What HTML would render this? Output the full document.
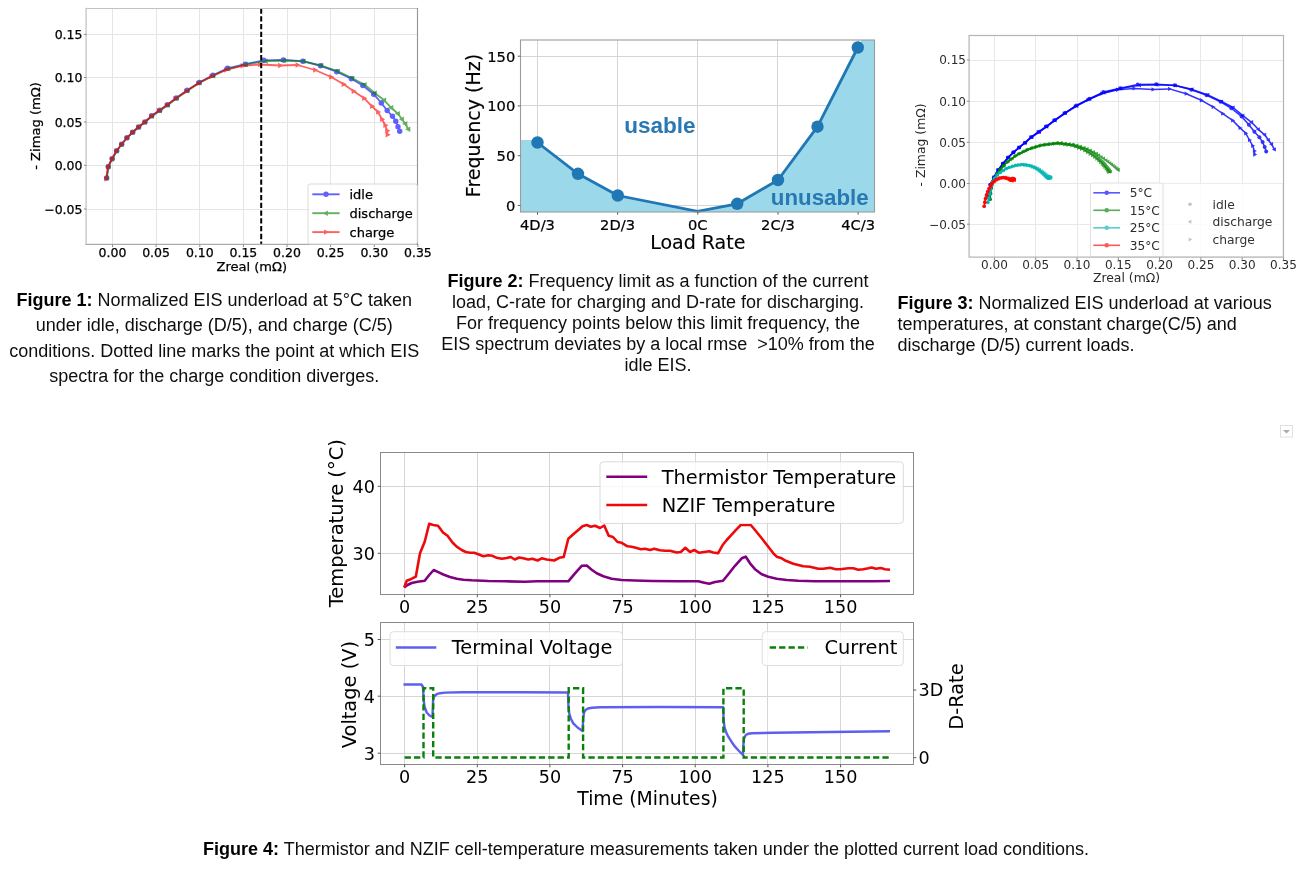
<!DOCTYPE html>
<html lang="en"><head><meta charset="utf-8"><title>Figures</title>
<style>
html,body{margin:0;padding:0;background:#fff;}
body{width:1314px;height:881px;position:relative;overflow:hidden;font-family:"Liberation Sans", "DejaVu Sans", sans-serif;color:#1a1a1a;}
svg{position:absolute;left:0;top:0;}
svg text{font-family:"DejaVu Sans", "Liberation Sans", sans-serif;}
.cap{position:absolute;font-size:18px;white-space:nowrap;color:#0e0e0e;}
.cap b{font-weight:bold;color:#000;}
.c{text-align:center;}
</style></head><body>
<svg width="1314" height="881" viewBox="0 0 1314 881">
<g id="chart1">
<rect x="86.5" y="8.5" width="331.0" height="236.0" fill="#fff"/>
<g stroke="#e5e5e5" stroke-width="1">
<line x1="112.5" y1="8.5" x2="112.5" y2="244.5"/>
<line x1="156.5" y1="8.5" x2="156.5" y2="244.5"/>
<line x1="199.5" y1="8.5" x2="199.5" y2="244.5"/>
<line x1="243.5" y1="8.5" x2="243.5" y2="244.5"/>
<line x1="287.5" y1="8.5" x2="287.5" y2="244.5"/>
<line x1="330.5" y1="8.5" x2="330.5" y2="244.5"/>
<line x1="374.5" y1="8.5" x2="374.5" y2="244.5"/>
<line x1="86.5" y1="34.5" x2="417.5" y2="34.5"/>
<line x1="86.5" y1="77.5" x2="417.5" y2="77.5"/>
<line x1="86.5" y1="122.5" x2="417.5" y2="122.5"/>
<line x1="86.5" y1="165.5" x2="417.5" y2="165.5"/>
<line x1="86.5" y1="209.5" x2="417.5" y2="209.5"/>
</g>
<g fill="none" stroke-width="1.8" stroke-linejoin="round">
<g opacity="0.62"><polyline stroke="#0000ff" points="106.7,178.0 108.3,166.7 112.2,158.7 116.7,150.8 121.7,144.2 127.0,137.8 132.7,132.2 138.7,127.0 145.0,122.0 151.7,115.8 159.7,110.3 167.5,104.7 176.3,98.0 187.2,90.3 199.2,82.5 212.8,75.3 227.5,68.3 245.3,64.2 263.8,60.3 283.3,60.0 302.8,61.2 320.5,65.8 336.7,71.7 351.3,78.7 362.8,85.5 373.7,94.2 381.3,103.0 387.2,110.5 392.5,116.3 395.8,121.3 398.0,126.7 399.7,131.3"/><g fill="#0000ff" stroke="none"><circle cx="106.7" cy="178.0" r="2.7"/><circle cx="108.3" cy="166.7" r="2.7"/><circle cx="112.2" cy="158.7" r="2.7"/><circle cx="116.7" cy="150.8" r="2.7"/><circle cx="121.7" cy="144.2" r="2.7"/><circle cx="127.0" cy="137.8" r="2.7"/><circle cx="132.7" cy="132.2" r="2.7"/><circle cx="138.7" cy="127.0" r="2.7"/><circle cx="145.0" cy="122.0" r="2.7"/><circle cx="151.7" cy="115.8" r="2.7"/><circle cx="159.7" cy="110.3" r="2.7"/><circle cx="167.5" cy="104.7" r="2.7"/><circle cx="176.3" cy="98.0" r="2.7"/><circle cx="187.2" cy="90.3" r="2.7"/><circle cx="199.2" cy="82.5" r="2.7"/><circle cx="212.8" cy="75.3" r="2.7"/><circle cx="227.5" cy="68.3" r="2.7"/><circle cx="245.3" cy="64.2" r="2.7"/><circle cx="263.8" cy="60.3" r="2.7"/><circle cx="283.3" cy="60.0" r="2.7"/><circle cx="302.8" cy="61.2" r="2.7"/><circle cx="320.5" cy="65.8" r="2.7"/><circle cx="336.7" cy="71.7" r="2.7"/><circle cx="351.3" cy="78.7" r="2.7"/><circle cx="362.8" cy="85.5" r="2.7"/><circle cx="373.7" cy="94.2" r="2.7"/><circle cx="381.3" cy="103.0" r="2.7"/><circle cx="387.2" cy="110.5" r="2.7"/><circle cx="392.5" cy="116.3" r="2.7"/><circle cx="395.8" cy="121.3" r="2.7"/><circle cx="398.0" cy="126.7" r="2.7"/><circle cx="399.7" cy="131.3" r="2.7"/></g></g>
<g opacity="0.62"><polyline stroke="#008000" points="106.7,178.0 108.3,166.7 112.2,158.7 116.7,150.8 121.7,144.2 127.0,137.8 132.7,132.2 138.7,127.0 145.0,122.0 152.0,116.2 160.0,110.7 167.8,105.0 176.7,98.3 187.5,90.7 199.7,82.8 213.3,75.7 228.3,68.8 246.0,64.5 265.8,61.2 284.2,60.5 303.7,61.3 321.3,65.5 338.0,71.3 352.5,78.3 364.7,84.7 375.0,93.3 384.2,100.3 391.3,107.8 398.0,113.7 402.0,119.2 405.3,123.7 408.3,129.2"/><g fill="#008000" stroke="none"><path d="M103.5 178.0L108.6 175.3L108.6 180.7Z"/><path d="M105.1 166.7L110.3 163.9L110.3 169.4Z"/><path d="M109.0 158.7L114.1 155.9L114.1 161.4Z"/><path d="M113.5 150.8L118.6 148.1L118.6 153.6Z"/><path d="M118.5 144.2L123.6 141.4L123.6 146.9Z"/><path d="M123.8 137.8L128.9 135.1L128.9 140.6Z"/><path d="M129.5 132.2L134.6 129.4L134.6 134.9Z"/><path d="M135.5 127.0L140.6 124.3L140.6 129.7Z"/><path d="M141.8 122.0L146.9 119.3L146.9 124.7Z"/><path d="M148.8 116.2L153.9 113.4L153.9 118.9Z"/><path d="M156.8 110.7L161.9 107.9L161.9 113.4Z"/><path d="M164.6 105.0L169.8 102.3L169.8 107.7Z"/><path d="M173.5 98.3L178.6 95.6L178.6 101.1Z"/><path d="M184.3 90.7L189.4 87.9L189.4 93.4Z"/><path d="M196.5 82.8L201.6 80.1L201.6 85.6Z"/><path d="M210.1 75.7L215.3 72.9L215.3 78.4Z"/><path d="M225.1 68.8L230.3 66.1L230.3 71.6Z"/><path d="M242.8 64.5L247.9 61.8L247.9 67.2Z"/><path d="M262.6 61.2L267.8 58.4L267.8 63.9Z"/><path d="M281.0 60.5L286.1 57.8L286.1 63.2Z"/><path d="M300.5 61.3L305.6 58.6L305.6 64.1Z"/><path d="M318.1 65.5L323.3 62.8L323.3 68.2Z"/><path d="M334.8 71.3L339.9 68.6L339.9 74.1Z"/><path d="M349.3 78.3L354.4 75.6L354.4 81.1Z"/><path d="M361.5 84.7L366.6 81.9L366.6 87.4Z"/><path d="M371.8 93.3L376.9 90.6L376.9 96.1Z"/><path d="M381.0 100.3L386.1 97.6L386.1 103.1Z"/><path d="M388.1 107.8L393.3 105.1L393.3 110.6Z"/><path d="M394.8 113.7L399.9 110.9L399.9 116.4Z"/><path d="M398.8 119.2L403.9 116.4L403.9 121.9Z"/><path d="M402.1 123.7L407.3 120.9L407.3 126.4Z"/><path d="M405.1 129.2L410.3 126.4L410.3 131.9Z"/></g></g>
<g opacity="0.62"><polyline stroke="#ff0000" points="106.2,178.7 108.0,167.0 111.8,159.0 116.3,151.2 121.3,144.5 126.7,138.2 132.3,132.5 138.3,127.3 144.5,122.3 151.0,116.3 158.7,110.8 166.7,105.3 175.3,98.7 186.2,91.2 198.0,83.5 211.3,76.5 225.8,70.0 242.5,65.8 260.0,64.5 280.0,65.5 297.5,65.0 315.0,70.0 331.2,77.0 343.7,84.2 353.7,91.2 364.2,98.3 372.0,106.3 378.0,112.0 382.0,119.2 385.3,125.3 387.2,130.8 387.5,134.7"/><g fill="#ff0000" stroke="none"><path d="M109.4 178.7L104.2 175.9L104.2 181.4Z"/><path d="M111.2 167.0L106.1 164.3L106.1 169.7Z"/><path d="M115.0 159.0L109.9 156.3L109.9 161.7Z"/><path d="M119.5 151.2L114.4 148.4L114.4 153.9Z"/><path d="M124.5 144.5L119.4 141.8L119.4 147.2Z"/><path d="M129.9 138.2L124.7 135.4L124.7 140.9Z"/><path d="M135.5 132.5L130.4 129.8L130.4 135.2Z"/><path d="M141.5 127.3L136.4 124.6L136.4 130.1Z"/><path d="M147.7 122.3L142.6 119.6L142.6 125.1Z"/><path d="M154.2 116.3L149.1 113.6L149.1 119.1Z"/><path d="M161.9 110.8L156.7 108.1L156.7 113.6Z"/><path d="M169.9 105.3L164.7 102.6L164.7 108.1Z"/><path d="M178.5 98.7L173.4 95.9L173.4 101.4Z"/><path d="M189.4 91.2L184.2 88.4L184.2 93.9Z"/><path d="M201.2 83.5L196.1 80.8L196.1 86.2Z"/><path d="M214.5 76.5L209.4 73.8L209.4 79.2Z"/><path d="M229.0 70.0L223.9 67.3L223.9 72.7Z"/><path d="M245.7 65.8L240.6 63.1L240.6 68.6Z"/><path d="M263.2 64.5L258.1 61.8L258.1 67.2Z"/><path d="M283.2 65.5L278.1 62.8L278.1 68.2Z"/><path d="M300.7 65.0L295.6 62.3L295.6 67.7Z"/><path d="M318.2 70.0L313.1 67.3L313.1 72.7Z"/><path d="M334.4 77.0L329.2 74.3L329.2 79.7Z"/><path d="M346.9 84.2L341.7 81.4L341.7 86.9Z"/><path d="M356.9 91.2L351.7 88.4L351.7 93.9Z"/><path d="M367.4 98.3L362.2 95.6L362.2 101.1Z"/><path d="M375.2 106.3L370.1 103.6L370.1 109.1Z"/><path d="M381.2 112.0L376.1 109.3L376.1 114.7Z"/><path d="M385.2 119.2L380.1 116.4L380.1 121.9Z"/><path d="M388.5 125.3L383.4 122.6L383.4 128.1Z"/><path d="M390.4 130.8L385.2 128.1L385.2 133.6Z"/><path d="M390.7 134.7L385.6 131.9L385.6 137.4Z"/></g></g>
</g>
<line x1="261.2" y1="8.5" x2="261.2" y2="244.5" stroke="#000" stroke-width="2.0" stroke-dasharray="5.3 2.47"/>
<g stroke-width="1.15" stroke-linecap="square">
<line x1="86.1" y1="8.45" x2="417.5" y2="8.45" stroke="#c2c2c2"/>
<line x1="86.1" y1="8.45" x2="86.1" y2="244.4" stroke="#c8c8c8" stroke-width="1.4"/>
<line x1="86.1" y1="244.4" x2="417.5" y2="244.4" stroke="#acacac"/>
<line x1="417.5" y1="8.45" x2="417.5" y2="244.4" stroke="#969696"/>
</g>
<g stroke="#8c8c8c" stroke-width="1">
<line x1="112.5" y1="244.5" x2="112.5" y2="247.1"/>
<line x1="156.1" y1="244.5" x2="156.1" y2="247.1"/>
<line x1="199.8" y1="244.5" x2="199.8" y2="247.1"/>
<line x1="243.4" y1="244.5" x2="243.4" y2="247.1"/>
<line x1="287.0" y1="244.5" x2="287.0" y2="247.1"/>
<line x1="330.6" y1="244.5" x2="330.6" y2="247.1"/>
<line x1="374.3" y1="244.5" x2="374.3" y2="247.1"/>
<line x1="417.9" y1="244.5" x2="417.9" y2="247.1"/>
<line x1="83.9" y1="34.4" x2="86.5" y2="34.4"/>
<line x1="83.9" y1="77.5" x2="86.5" y2="77.5"/>
<line x1="83.9" y1="122.0" x2="86.5" y2="122.0"/>
<line x1="83.9" y1="165.3" x2="86.5" y2="165.3"/>
<line x1="83.9" y1="209.0" x2="86.5" y2="209.0"/>
</g>
<g font-size="12.5" fill="#000" stroke="#000" stroke-width="0.25">
<text x="112.5" y="256.8" text-anchor="middle">0.00</text>
<text x="156.1" y="256.8" text-anchor="middle">0.05</text>
<text x="199.8" y="256.8" text-anchor="middle">0.10</text>
<text x="243.4" y="256.8" text-anchor="middle">0.15</text>
<text x="287.0" y="256.8" text-anchor="middle">0.20</text>
<text x="330.6" y="256.8" text-anchor="middle">0.25</text>
<text x="374.3" y="256.8" text-anchor="middle">0.30</text>
<text x="417.9" y="256.8" text-anchor="middle">0.35</text>
<text x="82.5" y="39.0" text-anchor="end">0.15</text>
<text x="82.5" y="82.1" text-anchor="end">0.10</text>
<text x="82.5" y="126.6" text-anchor="end">0.05</text>
<text x="82.5" y="169.9" text-anchor="end">0.00</text>
<text x="82.5" y="213.6" text-anchor="end">−0.05</text>
<text x="251.8" y="271.2" text-anchor="middle" font-size="13.05">Zreal (mΩ)</text>
<text transform="translate(39.8,126) rotate(-90)" text-anchor="middle" font-size="13.1">- Zimag (mΩ)</text>
</g>
<rect x="308" y="184" width="109.3" height="60" rx="2" fill="#fff" fill-opacity="0.85" stroke="#d9d9d9" stroke-width="1"/>
<g opacity="0.62"><line x1="312.3" y1="194.3" x2="339.6" y2="194.3" stroke="#0000ff" stroke-width="1.9"/>
<circle cx="326" cy="194.3" r="2.7" fill="#0000ff"/>
</g>
<text x="349.5" y="198.8" font-size="13" fill="#000" stroke="#000" stroke-width="0.25">idle</text>
<g opacity="0.62"><line x1="312.3" y1="213.2" x2="339.6" y2="213.2" stroke="#008000" stroke-width="1.9"/>
<g fill="#008000"><path d="M322.8 213.2L327.9 210.5L327.9 215.9Z"/></g>
</g>
<text x="349.5" y="217.7" font-size="13" fill="#000" stroke="#000" stroke-width="0.25">discharge</text>
<g opacity="0.62"><line x1="312.3" y1="232.1" x2="339.6" y2="232.1" stroke="#ff0000" stroke-width="1.9"/>
<g fill="#ff0000"><path d="M329.2 232.1L324.1 229.4L324.1 234.8Z"/></g>
</g>
<text x="349.5" y="236.6" font-size="13" fill="#000" stroke="#000" stroke-width="0.25">charge</text>
</g>
<g id="chart2">
<rect x="520.5" y="40.0" width="354.0" height="172.0" fill="#fff"/>
<g stroke="#d4d4d4" stroke-width="1">
<line x1="537.5" y1="40.0" x2="537.5" y2="212.0"/>
<line x1="617.5" y1="40.0" x2="617.5" y2="212.0"/>
<line x1="697.5" y1="40.0" x2="697.5" y2="212.0"/>
<line x1="777.5" y1="40.0" x2="777.5" y2="212.0"/>
<line x1="858.5" y1="40.0" x2="858.5" y2="212.0"/>
<line x1="520.5" y1="56.5" x2="874.5" y2="56.5"/>
<line x1="520.5" y1="105.5" x2="874.5" y2="105.5"/>
<line x1="520.5" y1="155.5" x2="874.5" y2="155.5"/>
<line x1="520.5" y1="205.5" x2="874.5" y2="205.5"/>
</g>
<polygon points="520.5,140.0 533.0,140.0 537.5,142.5 578.0,173.8 617.8,195.5 697.6,211.3 737.2,203.8 778.0,180.0 817.5,126.7 857.8,47.5 861.6,40.0 874.5,40.0 874.5,212.0 520.5,212.0" fill="#9bd8ea"/>
<polyline points="537.5,142.5 578.0,173.8 617.8,195.5 697.6,211.3 737.2,203.8 778.0,180.0 817.5,126.7 857.8,47.5" fill="none" stroke="#1f77b4" stroke-width="2.8" stroke-linejoin="round"/>
<g fill="#1f77b4"><circle cx="537.5" cy="142.5" r="6.2"/><circle cx="578.0" cy="173.8" r="6.2"/><circle cx="617.8" cy="195.5" r="6.2"/><circle cx="737.2" cy="203.8" r="6.2"/><circle cx="778.0" cy="180.0" r="6.2"/><circle cx="817.5" cy="126.7" r="6.2"/><circle cx="857.8" cy="47.5" r="6.2"/></g>
<rect x="520.5" y="40.0" width="354.0" height="172.0" fill="none" stroke="#9c9c9c" stroke-width="1.1"/>
<g stroke="#666" stroke-width="1">
<line x1="537.5" y1="212.0" x2="537.5" y2="214.8"/>
<line x1="617.6" y1="212.0" x2="617.6" y2="214.8"/>
<line x1="697.8" y1="212.0" x2="697.8" y2="214.8"/>
<line x1="778.0" y1="212.0" x2="778.0" y2="214.8"/>
<line x1="858.1" y1="212.0" x2="858.1" y2="214.8"/>
<line x1="517.7" y1="56.2" x2="520.5" y2="56.2"/>
<line x1="517.7" y1="105.9" x2="520.5" y2="105.9"/>
<line x1="517.7" y1="155.7" x2="520.5" y2="155.7"/>
<line x1="517.7" y1="205.5" x2="520.5" y2="205.5"/>
</g>
<g font-size="14.7" fill="#000" stroke="#000" stroke-width="0.22">
<text x="537.5" y="229.8" text-anchor="middle">4D/3</text>
<text x="617.6" y="229.8" text-anchor="middle">2D/3</text>
<text x="697.8" y="229.8" text-anchor="middle">0C</text>
<text x="778.0" y="229.8" text-anchor="middle">2C/3</text>
<text x="858.1" y="229.8" text-anchor="middle">4C/3</text>
<text x="515.3" y="61.6" text-anchor="end">150</text>
<text x="515.3" y="111.2" text-anchor="end">100</text>
<text x="515.3" y="161.0" text-anchor="end">50</text>
<text x="515.3" y="210.8" text-anchor="end">0</text>
</g>
<g font-size="19" fill="#000" stroke="#000" stroke-width="0.15">
<text x="697.8" y="248.7" text-anchor="middle">Load Rate</text>
<text transform="translate(480.3,125.5) rotate(-90)" text-anchor="middle">Frequency (Hz)</text>
</g>
<g font-size="22.3" font-weight="bold" fill="#2878b2" style="font-family:'Liberation Sans',sans-serif">
<text x="624.2" y="133.3" font-size="22.5" style="font-family:'Liberation Sans',sans-serif">usable</text>
<text x="770.8" y="205.3" style="font-family:'Liberation Sans',sans-serif">unusable</text>
</g>
</g>
<g id="chart3">
<rect x="969.5" y="35.5" width="314.0" height="222.0" fill="#fff"/>
<g stroke="#e8e8ec" stroke-width="1">
<line x1="994.5" y1="35.5" x2="994.5" y2="257.5"/>
<line x1="1035.5" y1="35.5" x2="1035.5" y2="257.5"/>
<line x1="1077.5" y1="35.5" x2="1077.5" y2="257.5"/>
<line x1="1118.5" y1="35.5" x2="1118.5" y2="257.5"/>
<line x1="1159.5" y1="35.5" x2="1159.5" y2="257.5"/>
<line x1="1200.5" y1="35.5" x2="1200.5" y2="257.5"/>
<line x1="1242.5" y1="35.5" x2="1242.5" y2="257.5"/>
<line x1="969.5" y1="60.5" x2="1283.5" y2="60.5"/>
<line x1="969.5" y1="101.5" x2="1283.5" y2="101.5"/>
<line x1="969.5" y1="142.5" x2="1283.5" y2="142.5"/>
<line x1="969.5" y1="183.5" x2="1283.5" y2="183.5"/>
<line x1="969.5" y1="224.5" x2="1283.5" y2="224.5"/>
</g>
<g opacity="0.80"><polyline fill="none" stroke="#0000ff" stroke-width="1.6" stroke-linejoin="round" points="988.9,195.5 990.5,184.8 994.1,177.2 998.3,169.9 1003.1,163.6 1008.1,157.6 1013.5,152.3 1019.2,147.4 1025.2,142.7 1031.5,136.9 1039.0,131.7 1046.5,126.3 1054.8,120.1 1065.1,112.8 1076.4,105.4 1089.4,98.7 1103.3,92.1 1120.1,88.2 1137.7,84.5 1156.1,84.2 1174.6,85.3 1191.3,89.7 1206.6,95.2 1220.5,101.8 1231.4,108.3 1241.6,116.4 1248.9,124.8 1254.4,131.8 1259.4,137.3 1262.6,142.1 1264.7,147.1 1266.2,151.5"/><g fill="#0000ff"><circle cx="988.9" cy="195.5" r="2.0"/><circle cx="990.5" cy="184.8" r="2.0"/><circle cx="994.1" cy="177.2" r="2.0"/><circle cx="998.3" cy="169.9" r="2.0"/><circle cx="1003.1" cy="163.6" r="2.0"/><circle cx="1008.1" cy="157.6" r="2.0"/><circle cx="1013.5" cy="152.3" r="2.0"/><circle cx="1019.2" cy="147.4" r="2.0"/><circle cx="1025.2" cy="142.7" r="2.0"/><circle cx="1031.5" cy="136.9" r="2.0"/><circle cx="1039.0" cy="131.7" r="2.0"/><circle cx="1046.5" cy="126.3" r="2.0"/><circle cx="1054.8" cy="120.1" r="2.0"/><circle cx="1065.1" cy="112.8" r="2.0"/><circle cx="1076.4" cy="105.4" r="2.0"/><circle cx="1089.4" cy="98.7" r="2.0"/><circle cx="1103.3" cy="92.1" r="2.0"/><circle cx="1120.1" cy="88.2" r="2.0"/><circle cx="1137.7" cy="84.5" r="2.0"/><circle cx="1156.1" cy="84.2" r="2.0"/><circle cx="1174.6" cy="85.3" r="2.0"/><circle cx="1191.3" cy="89.7" r="2.0"/><circle cx="1206.6" cy="95.2" r="2.0"/><circle cx="1220.5" cy="101.8" r="2.0"/><circle cx="1231.4" cy="108.3" r="2.0"/><circle cx="1241.6" cy="116.4" r="2.0"/><circle cx="1248.9" cy="124.8" r="2.0"/><circle cx="1254.4" cy="131.8" r="2.0"/><circle cx="1259.4" cy="137.3" r="2.0"/><circle cx="1262.6" cy="142.1" r="2.0"/><circle cx="1264.7" cy="147.1" r="2.0"/><circle cx="1266.2" cy="151.5" r="2.0"/></g></g>
<g opacity="0.80"><polyline fill="none" stroke="#0000ff" stroke-width="1.6" stroke-linejoin="round" points="988.9,195.5 990.5,184.8 994.1,177.2 998.3,169.9 1003.1,163.6 1008.1,157.6 1013.5,152.3 1019.2,147.4 1025.2,142.7 1031.8,137.2 1039.4,132.0 1046.8,126.7 1055.1,120.4 1065.4,113.1 1076.9,105.8 1089.8,99.0 1104.0,92.6 1120.8,88.5 1139.5,85.3 1156.9,84.7 1175.4,85.5 1192.1,89.4 1207.9,94.9 1221.6,101.5 1233.1,107.5 1242.9,115.7 1251.6,122.3 1258.3,129.3 1264.7,134.8 1268.4,140.0 1271.6,144.3 1274.4,149.4"/><g fill="#0000ff"><path d="M986.4 195.5L990.4 193.3L990.4 197.6Z"/><path d="M988.0 184.8L992.0 182.7L992.0 186.9Z"/><path d="M991.6 177.2L995.6 175.1L995.6 179.4Z"/><path d="M995.8 169.9L999.8 167.7L999.8 172.0Z"/><path d="M1000.6 163.6L1004.6 161.5L1004.6 165.7Z"/><path d="M1005.6 157.6L1009.6 155.5L1009.6 159.7Z"/><path d="M1011.0 152.3L1015.0 150.1L1015.0 154.4Z"/><path d="M1016.7 147.4L1020.7 145.3L1020.7 149.5Z"/><path d="M1022.7 142.7L1026.7 140.6L1026.7 144.8Z"/><path d="M1029.3 137.2L1033.3 135.1L1033.3 139.3Z"/><path d="M1036.9 132.0L1040.9 129.9L1040.9 134.1Z"/><path d="M1044.3 126.7L1048.3 124.5L1048.3 128.8Z"/><path d="M1052.6 120.4L1056.6 118.2L1056.6 122.5Z"/><path d="M1062.9 113.1L1066.9 111.0L1066.9 115.3Z"/><path d="M1074.4 105.8L1078.4 103.6L1078.4 107.9Z"/><path d="M1087.3 99.0L1091.3 96.9L1091.3 101.1Z"/><path d="M1101.5 92.6L1105.5 90.4L1105.5 94.7Z"/><path d="M1118.3 88.5L1122.3 86.3L1122.3 90.6Z"/><path d="M1137.0 85.3L1141.0 83.2L1141.0 87.5Z"/><path d="M1154.4 84.7L1158.4 82.6L1158.4 86.8Z"/><path d="M1172.9 85.5L1176.9 83.4L1176.9 87.6Z"/><path d="M1189.6 89.4L1193.6 87.3L1193.6 91.5Z"/><path d="M1205.4 94.9L1209.4 92.8L1209.4 97.0Z"/><path d="M1219.1 101.5L1223.1 99.4L1223.1 103.6Z"/><path d="M1230.6 107.5L1234.6 105.4L1234.6 109.6Z"/><path d="M1240.4 115.7L1244.4 113.5L1244.4 117.8Z"/><path d="M1249.1 122.3L1253.1 120.1L1253.1 124.4Z"/><path d="M1255.8 129.3L1259.8 127.2L1259.8 131.4Z"/><path d="M1262.2 134.8L1266.2 132.7L1266.2 136.9Z"/><path d="M1265.9 140.0L1269.9 137.9L1269.9 142.1Z"/><path d="M1269.1 144.3L1273.1 142.1L1273.1 146.4Z"/><path d="M1271.9 149.4L1275.9 147.3L1275.9 151.6Z"/></g></g>
<g opacity="0.80"><polyline fill="none" stroke="#0000ff" stroke-width="1.5" stroke-linejoin="round" points="988.4,196.1 990.1,185.1 993.8,177.6 998.0,170.2 1002.8,163.9 1007.8,157.9 1013.2,152.6 1018.9,147.7 1024.7,143.0 1030.8,137.3 1038.1,132.2 1045.7,127.0 1053.9,120.7 1064.1,113.6 1075.3,106.4 1088.0,99.8 1101.7,93.7 1117.5,89.7 1134.0,88.5 1153.0,89.4 1169.5,88.9 1186.1,93.7 1201.4,100.3 1213.2,107.0 1222.7,113.6 1232.6,120.4 1240.0,127.9 1245.7,133.3 1249.5,140.0 1252.7,145.8 1254.4,151.0 1254.7,154.6"/><g fill="#0000ff"><path d="M990.9 196.1L986.9 194.0L986.9 198.2Z"/><path d="M992.6 185.1L988.6 183.0L988.6 187.2Z"/><path d="M996.3 177.6L992.3 175.4L992.3 179.7Z"/><path d="M1000.5 170.2L996.5 168.1L996.5 172.3Z"/><path d="M1005.3 163.9L1001.3 161.8L1001.3 166.0Z"/><path d="M1010.3 157.9L1006.3 155.8L1006.3 160.0Z"/><path d="M1015.7 152.6L1011.7 150.5L1011.7 154.7Z"/><path d="M1021.4 147.7L1017.4 145.6L1017.4 149.8Z"/><path d="M1027.2 143.0L1023.2 140.9L1023.2 145.1Z"/><path d="M1033.3 137.3L1029.3 135.2L1029.3 139.5Z"/><path d="M1040.6 132.2L1036.6 130.0L1036.6 134.3Z"/><path d="M1048.2 127.0L1044.2 124.8L1044.2 129.1Z"/><path d="M1056.4 120.7L1052.4 118.6L1052.4 122.8Z"/><path d="M1066.6 113.6L1062.6 111.5L1062.6 115.7Z"/><path d="M1077.8 106.4L1073.8 104.3L1073.8 108.5Z"/><path d="M1090.5 99.8L1086.5 97.7L1086.5 101.9Z"/><path d="M1104.2 93.7L1100.2 91.5L1100.2 95.8Z"/><path d="M1120.0 89.7L1116.0 87.6L1116.0 91.9Z"/><path d="M1136.5 88.5L1132.5 86.3L1132.5 90.6Z"/><path d="M1155.5 89.4L1151.5 87.3L1151.5 91.5Z"/><path d="M1172.0 88.9L1168.0 86.8L1168.0 91.1Z"/><path d="M1188.6 93.7L1184.6 91.5L1184.6 95.8Z"/><path d="M1203.9 100.3L1199.9 98.1L1199.9 102.4Z"/><path d="M1215.7 107.0L1211.7 104.9L1211.7 109.1Z"/><path d="M1225.2 113.6L1221.2 111.5L1221.2 115.7Z"/><path d="M1235.1 120.4L1231.1 118.2L1231.1 122.5Z"/><path d="M1242.5 127.9L1238.5 125.8L1238.5 130.0Z"/><path d="M1248.2 133.3L1244.2 131.1L1244.2 135.4Z"/><path d="M1252.0 140.0L1248.0 137.9L1248.0 142.1Z"/><path d="M1255.2 145.8L1251.2 143.7L1251.2 147.9Z"/><path d="M1256.9 151.0L1252.9 148.9L1252.9 153.1Z"/><path d="M1257.2 154.6L1253.2 152.5L1253.2 156.7Z"/></g></g>
<g opacity="0.72"><polyline fill="none" stroke="#008000" stroke-width="1.3" stroke-linejoin="round" points="990.2,199.2 990.8,191.7 992.5,181.7 998.3,171.7 1006.7,162.5 1016.7,155.0 1028.3,149.2 1041.7,145.0 1058.3,143.0 1073.3,145.0 1085.0,149.2 1095.0,155.0 1103.3,162.5 1108.3,168.7 1110.3,171.7"/><g fill="#008000"><circle cx="990.2" cy="199.2" r="1.8"/><circle cx="990.7" cy="193.6" r="1.8"/><circle cx="991.4" cy="188.0" r="1.8"/><circle cx="992.3" cy="182.9" r="1.8"/><circle cx="994.5" cy="178.2" r="1.8"/><circle cx="997.3" cy="173.4" r="1.8"/><circle cx="1000.5" cy="169.3" r="1.8"/><circle cx="1003.7" cy="165.7" r="1.8"/><circle cx="1007.3" cy="162.0" r="1.8"/><circle cx="1011.2" cy="159.1" r="1.8"/><circle cx="1015.3" cy="156.0" r="1.8"/><circle cx="1019.5" cy="153.6" r="1.8"/><circle cx="1023.8" cy="151.4" r="1.8"/><circle cx="1027.7" cy="149.5" r="1.8"/><circle cx="1032.3" cy="147.9" r="1.8"/><circle cx="1036.5" cy="146.6" r="1.8"/><circle cx="1040.7" cy="145.3" r="1.8"/><circle cx="1045.0" cy="144.6" r="1.8"/><circle cx="1049.4" cy="144.1" r="1.8"/><circle cx="1053.7" cy="143.6" r="1.8"/><circle cx="1057.7" cy="143.1" r="1.8"/><circle cx="1061.7" cy="143.4" r="1.8"/><circle cx="1065.7" cy="144.0" r="1.8"/><circle cx="1069.2" cy="144.5" r="1.8"/><circle cx="1073.2" cy="145.0" r="1.8"/><circle cx="1076.6" cy="146.2" r="1.8"/><circle cx="1080.0" cy="147.4" r="1.8"/><circle cx="1083.0" cy="148.5" r="1.8"/><circle cx="1086.3" cy="149.9" r="1.8"/><circle cx="1089.1" cy="151.5" r="1.8"/><circle cx="1091.8" cy="153.1" r="1.8"/><circle cx="1094.2" cy="154.6" r="1.8"/><circle cx="1096.4" cy="156.3" r="1.8"/><circle cx="1098.5" cy="158.2" r="1.8"/><circle cx="1100.6" cy="160.0" r="1.8"/><circle cx="1102.4" cy="161.7" r="1.8"/><circle cx="1104.0" cy="163.4" r="1.8"/><circle cx="1105.3" cy="164.9" r="1.8"/><circle cx="1106.6" cy="166.5" r="1.8"/><circle cx="1107.8" cy="168.0" r="1.8"/><circle cx="1108.8" cy="169.3" r="1.8"/><circle cx="1109.4" cy="170.3" r="1.8"/><circle cx="1110.1" cy="171.3" r="1.8"/><circle cx="1110.3" cy="171.7" r="1.8"/></g></g>
<g opacity="0.72"><polyline fill="none" stroke="#008000" stroke-width="1.3" stroke-linejoin="round" points="990.2,199.2 990.8,191.7 992.5,181.7 998.3,171.7 1006.7,162.5 1016.7,155.0 1028.3,149.2 1041.7,145.0 1058.7,142.8 1074.2,144.7 1086.3,148.3 1096.7,153.7 1105.8,160.0 1112.5,165.0 1118.3,170.0"/><g fill="#008000"><path d="M987.9 199.2L991.5 197.3L991.5 201.1Z"/><path d="M988.4 193.4L992.0 191.5L992.0 195.3Z"/><path d="M989.3 187.6L992.9 185.7L992.9 189.6Z"/><path d="M990.1 182.3L993.7 180.4L993.7 184.2Z"/><path d="M992.6 177.6L996.2 175.7L996.2 179.5Z"/><path d="M995.5 172.6L999.1 170.7L999.1 174.5Z"/><path d="M999.0 168.5L1002.6 166.6L1002.6 170.4Z"/><path d="M1002.3 164.8L1005.9 162.9L1005.9 166.7Z"/><path d="M1006.3 161.1L1009.9 159.2L1009.9 163.0Z"/><path d="M1010.2 158.1L1013.8 156.2L1013.8 160.0Z"/><path d="M1014.6 154.9L1018.2 153.0L1018.2 156.8Z"/><path d="M1019.0 152.7L1022.6 150.8L1022.6 154.6Z"/><path d="M1023.5 150.5L1027.1 148.6L1027.1 152.4Z"/><path d="M1027.6 148.7L1031.2 146.8L1031.2 150.6Z"/><path d="M1032.4 147.2L1036.0 145.3L1036.0 149.1Z"/><path d="M1036.7 145.8L1040.3 143.9L1040.3 147.7Z"/><path d="M1041.2 144.8L1044.8 142.9L1044.8 146.7Z"/><path d="M1045.7 144.2L1049.3 142.3L1049.3 146.1Z"/><path d="M1050.2 143.6L1053.8 141.7L1053.8 145.5Z"/><path d="M1054.7 143.0L1058.3 141.1L1058.3 145.0Z"/><path d="M1058.8 143.1L1062.4 141.2L1062.4 145.0Z"/><path d="M1063.0 143.6L1066.6 141.7L1066.6 145.5Z"/><path d="M1067.1 144.1L1070.7 142.2L1070.7 146.0Z"/><path d="M1070.8 144.5L1074.4 142.6L1074.4 146.4Z"/><path d="M1074.8 145.5L1078.4 143.6L1078.4 147.4Z"/><path d="M1078.4 146.6L1082.0 144.7L1082.0 148.5Z"/><path d="M1081.9 147.7L1085.5 145.8L1085.5 149.6Z"/><path d="M1085.0 148.8L1088.6 146.9L1088.6 150.7Z"/><path d="M1088.3 150.5L1091.9 148.6L1091.9 152.4Z"/><path d="M1091.3 152.1L1094.9 150.1L1094.9 154.0Z"/><path d="M1094.2 153.6L1097.8 151.7L1097.8 155.5Z"/><path d="M1096.6 155.2L1100.2 153.3L1100.2 157.1Z"/><path d="M1099.0 156.9L1102.6 154.9L1102.6 158.8Z"/><path d="M1101.4 158.5L1105.0 156.6L1105.0 160.4Z"/><path d="M1103.8 160.2L1107.4 158.2L1107.4 162.1Z"/><path d="M1105.8 161.7L1109.4 159.7L1109.4 163.6Z"/><path d="M1107.8 163.1L1111.4 161.2L1111.4 165.1Z"/><path d="M1109.4 164.4L1113.0 162.5L1113.0 166.3Z"/><path d="M1111.0 165.7L1114.6 163.8L1114.6 167.6Z"/><path d="M1112.6 167.0L1116.2 165.1L1116.2 168.9Z"/><path d="M1113.9 168.1L1117.5 166.2L1117.5 170.0Z"/><path d="M1114.8 168.9L1118.4 167.0L1118.4 170.8Z"/><path d="M1115.8 169.7L1119.4 167.8L1119.4 171.6Z"/><path d="M1116.1 170.0L1119.7 168.1L1119.7 171.9Z"/></g></g>
<g opacity="0.72"><polyline fill="none" stroke="#008000" stroke-width="1.3" stroke-linejoin="round" points="990.0,199.5 990.5,192.0 992.2,182.0 998.0,172.0 1006.3,162.8 1016.3,155.3 1028.0,149.7 1041.3,145.5 1057.7,143.5 1072.3,145.7 1083.7,150.0 1093.3,156.0 1101.3,163.0 1106.7,169.2 1108.7,172.0"/><g fill="#008000"><path d="M992.2 199.5L988.6 197.6L988.6 201.4Z"/><path d="M992.6 194.0L989.0 192.1L989.0 195.9Z"/><path d="M993.3 188.5L989.7 186.6L989.7 190.4Z"/><path d="M994.2 183.4L990.6 181.5L990.6 185.3Z"/><path d="M996.3 178.8L992.7 176.9L992.7 180.7Z"/><path d="M999.1 174.0L995.5 172.1L995.5 175.9Z"/><path d="M1002.2 169.9L998.6 168.0L998.6 171.8Z"/><path d="M1005.4 166.4L1001.8 164.4L1001.8 168.3Z"/><path d="M1008.9 162.6L1005.3 160.7L1005.3 164.5Z"/><path d="M1012.7 159.8L1009.1 157.8L1009.1 161.7Z"/><path d="M1016.8 156.7L1013.2 154.7L1013.2 158.6Z"/><path d="M1020.9 154.2L1017.3 152.3L1017.3 156.1Z"/><path d="M1025.1 152.1L1021.5 150.2L1021.5 154.1Z"/><path d="M1029.1 150.2L1025.5 148.3L1025.5 152.2Z"/><path d="M1033.5 148.6L1029.9 146.7L1029.9 150.6Z"/><path d="M1037.7 147.3L1034.1 145.4L1034.1 149.3Z"/><path d="M1041.9 146.0L1038.3 144.1L1038.3 148.0Z"/><path d="M1046.1 145.2L1042.5 143.3L1042.5 147.1Z"/><path d="M1050.4 144.7L1046.8 142.7L1046.8 146.6Z"/><path d="M1054.8 144.1L1051.2 142.2L1051.2 146.0Z"/><path d="M1058.7 143.6L1055.1 141.7L1055.1 145.6Z"/><path d="M1062.6 143.9L1059.0 142.0L1059.0 145.8Z"/><path d="M1066.5 144.5L1062.9 142.6L1062.9 146.4Z"/><path d="M1070.1 145.0L1066.5 143.1L1066.5 146.9Z"/><path d="M1074.0 145.6L1070.4 143.7L1070.4 147.5Z"/><path d="M1077.4 146.7L1073.8 144.8L1073.8 148.6Z"/><path d="M1080.7 148.0L1077.1 146.1L1077.1 149.9Z"/><path d="M1083.6 149.1L1080.0 147.2L1080.0 151.0Z"/><path d="M1086.9 150.6L1083.3 148.7L1083.3 152.5Z"/><path d="M1089.6 152.3L1086.0 150.4L1086.0 154.2Z"/><path d="M1092.3 153.9L1088.7 152.0L1088.7 155.9Z"/><path d="M1094.6 155.4L1091.0 153.5L1091.0 157.3Z"/><path d="M1096.8 157.1L1093.2 155.2L1093.2 159.0Z"/><path d="M1098.9 158.9L1095.3 157.0L1095.3 160.8Z"/><path d="M1101.0 160.7L1097.4 158.8L1097.4 162.6Z"/><path d="M1102.8 162.3L1099.2 160.4L1099.2 164.2Z"/><path d="M1104.4 164.0L1100.8 162.1L1100.8 165.9Z"/><path d="M1105.7 165.5L1102.1 163.6L1102.1 167.4Z"/><path d="M1107.0 167.0L1103.4 165.1L1103.4 168.9Z"/><path d="M1108.3 168.5L1104.7 166.6L1104.7 170.4Z"/><path d="M1109.3 169.7L1105.7 167.8L1105.7 171.6Z"/><path d="M1110.0 170.7L1106.4 168.8L1106.4 172.6Z"/><path d="M1110.7 171.7L1107.1 169.8L1107.1 173.6Z"/><path d="M1110.9 172.0L1107.3 170.1L1107.3 173.9Z"/></g></g>
<g opacity="0.72"><polyline fill="none" stroke="#00b4b4" stroke-width="1.3" stroke-linejoin="round" points="987.8,202.5 989.2,196.7 990.8,188.3 993.3,180.0 998.3,173.7 1006.7,168.3 1015.0,165.5 1022.5,164.5 1030.0,165.8 1036.7,168.7 1042.5,173.0 1046.7,177.2 1048.8,178.3"/><g fill="#00b4b4"><circle cx="987.8" cy="202.5" r="1.8"/><circle cx="988.8" cy="198.2" r="1.8"/><circle cx="989.7" cy="193.9" r="1.8"/><circle cx="990.6" cy="189.6" r="1.8"/><circle cx="991.7" cy="185.5" r="1.8"/><circle cx="992.8" cy="181.7" r="1.8"/><circle cx="994.7" cy="178.3" r="1.8"/><circle cx="997.1" cy="175.2" r="1.8"/><circle cx="999.9" cy="172.7" r="1.8"/><circle cx="1003.0" cy="170.7" r="1.8"/><circle cx="1006.0" cy="168.8" r="1.8"/><circle cx="1009.3" cy="167.5" r="1.8"/><circle cx="1012.4" cy="166.4" r="1.8"/><circle cx="1015.6" cy="165.4" r="1.8"/><circle cx="1018.6" cy="165.0" r="1.8"/><circle cx="1021.7" cy="164.6" r="1.8"/><circle cx="1024.5" cy="164.9" r="1.8"/><circle cx="1027.1" cy="165.3" r="1.8"/><circle cx="1029.9" cy="165.8" r="1.8"/><circle cx="1032.2" cy="166.8" r="1.8"/><circle cx="1034.4" cy="167.7" r="1.8"/><circle cx="1036.6" cy="168.7" r="1.8"/><circle cx="1038.2" cy="169.8" r="1.8"/><circle cx="1040.0" cy="171.1" r="1.8"/><circle cx="1041.4" cy="172.2" r="1.8"/><circle cx="1042.8" cy="173.3" r="1.8"/><circle cx="1043.9" cy="174.4" r="1.8"/><circle cx="1045.0" cy="175.5" r="1.8"/><circle cx="1045.9" cy="176.4" r="1.8"/><circle cx="1046.7" cy="177.2" r="1.8"/><circle cx="1047.5" cy="177.6" r="1.8"/><circle cx="1048.3" cy="178.0" r="1.8"/><circle cx="1048.6" cy="178.2" r="1.8"/><circle cx="1048.8" cy="178.3" r="1.8"/></g></g>
<g opacity="0.72"><polyline fill="none" stroke="#00b4b4" stroke-width="1.3" stroke-linejoin="round" points="987.8,202.5 989.2,196.7 990.8,188.3 993.3,180.0 998.3,173.7 1006.7,168.3 1015.0,165.5 1022.8,164.3 1030.7,165.5 1037.7,168.3 1043.7,172.5 1048.3,176.7 1050.8,177.8"/><g fill="#00b4b4"><path d="M985.6 202.5L989.2 200.6L989.2 204.4Z"/><path d="M986.6 198.1L990.2 196.2L990.2 200.0Z"/><path d="M987.5 193.7L991.1 191.8L991.1 195.6Z"/><path d="M988.4 189.3L992.0 187.4L992.0 191.2Z"/><path d="M989.5 185.2L993.1 183.3L993.1 187.1Z"/><path d="M990.7 181.3L994.3 179.4L994.3 183.2Z"/><path d="M992.7 177.9L996.3 176.0L996.3 179.8Z"/><path d="M995.2 174.7L998.8 172.8L998.8 176.7Z"/><path d="M998.2 172.3L1001.8 170.4L1001.8 174.3Z"/><path d="M1001.4 170.3L1005.0 168.4L1005.0 172.2Z"/><path d="M1004.4 168.3L1008.0 166.4L1008.0 170.3Z"/><path d="M1007.8 167.2L1011.4 165.3L1011.4 169.1Z"/><path d="M1011.0 166.1L1014.6 164.2L1014.6 168.0Z"/><path d="M1014.2 165.3L1017.8 163.4L1017.8 167.2Z"/><path d="M1017.4 164.8L1021.0 162.9L1021.0 166.7Z"/><path d="M1020.5 164.4L1024.1 162.4L1024.1 166.3Z"/><path d="M1023.4 164.7L1027.0 162.8L1027.0 166.7Z"/><path d="M1026.0 165.1L1029.6 163.2L1029.6 167.1Z"/><path d="M1028.9 165.7L1032.5 163.8L1032.5 167.6Z"/><path d="M1031.2 166.6L1034.8 164.7L1034.8 168.5Z"/><path d="M1033.5 167.5L1037.1 165.6L1037.1 169.5Z"/><path d="M1035.7 168.5L1039.3 166.6L1039.3 170.5Z"/><path d="M1037.4 169.7L1041.0 167.8L1041.0 171.6Z"/><path d="M1039.2 171.0L1042.8 169.1L1042.8 172.9Z"/><path d="M1040.7 172.0L1044.3 170.1L1044.3 173.9Z"/><path d="M1042.1 173.1L1045.7 171.2L1045.7 175.0Z"/><path d="M1043.3 174.2L1046.9 172.3L1046.9 176.1Z"/><path d="M1044.5 175.2L1048.1 173.3L1048.1 177.1Z"/><path d="M1045.5 176.1L1049.1 174.2L1049.1 178.0Z"/><path d="M1046.3 176.8L1049.9 174.9L1049.9 178.7Z"/><path d="M1047.2 177.2L1050.8 175.3L1050.8 179.1Z"/><path d="M1048.0 177.5L1051.6 175.6L1051.6 179.5Z"/><path d="M1048.4 177.7L1052.0 175.8L1052.0 179.7Z"/><path d="M1048.6 177.8L1052.2 175.9L1052.2 179.7Z"/></g></g>
<g opacity="0.72"><polyline fill="none" stroke="#00b4b4" stroke-width="1.3" stroke-linejoin="round" points="987.8,202.5 989.2,196.7 990.8,188.3 993.3,180.0 998.3,173.7 1006.7,168.3 1015.0,165.5 1022.5,164.5 1030.0,165.8 1036.7,168.7 1042.5,173.0 1046.7,177.2 1048.8,178.3"/><g fill="#00b4b4"><path d="M990.1 202.5L986.5 200.6L986.5 204.4Z"/><path d="M991.1 198.2L987.5 196.3L987.5 200.1Z"/><path d="M992.0 193.9L988.4 192.0L988.4 195.8Z"/><path d="M992.8 189.6L989.2 187.6L989.2 191.5Z"/><path d="M993.9 185.5L990.3 183.6L990.3 187.4Z"/><path d="M995.1 181.7L991.5 179.8L991.5 183.6Z"/><path d="M996.9 178.3L993.3 176.4L993.3 180.2Z"/><path d="M999.4 175.2L995.8 173.3L995.8 177.1Z"/><path d="M1002.1 172.7L998.5 170.8L998.5 174.6Z"/><path d="M1005.3 170.7L1001.7 168.7L1001.7 172.6Z"/><path d="M1008.3 168.8L1004.7 166.8L1004.7 170.7Z"/><path d="M1011.5 167.5L1007.9 165.5L1007.9 169.4Z"/><path d="M1014.6 166.4L1011.0 164.5L1011.0 168.3Z"/><path d="M1017.8 165.4L1014.2 163.5L1014.2 167.3Z"/><path d="M1020.9 165.0L1017.3 163.1L1017.3 166.9Z"/><path d="M1023.9 164.6L1020.3 162.7L1020.3 166.5Z"/><path d="M1026.8 164.9L1023.2 162.9L1023.2 166.8Z"/><path d="M1029.4 165.3L1025.8 163.4L1025.8 167.2Z"/><path d="M1032.2 165.8L1028.6 163.9L1028.6 167.7Z"/><path d="M1034.4 166.8L1030.8 164.8L1030.8 168.7Z"/><path d="M1036.6 167.7L1033.0 165.8L1033.0 169.6Z"/><path d="M1038.9 168.7L1035.3 166.7L1035.3 170.6Z"/><path d="M1040.5 169.8L1036.9 167.9L1036.9 171.7Z"/><path d="M1042.2 171.1L1038.6 169.2L1038.6 173.1Z"/><path d="M1043.7 172.2L1040.1 170.3L1040.1 174.1Z"/><path d="M1045.0 173.3L1041.4 171.4L1041.4 175.2Z"/><path d="M1046.1 174.4L1042.5 172.5L1042.5 176.3Z"/><path d="M1047.2 175.5L1043.6 173.6L1043.6 177.4Z"/><path d="M1048.2 176.4L1044.6 174.5L1044.6 178.3Z"/><path d="M1048.9 177.2L1045.3 175.3L1045.3 179.1Z"/><path d="M1049.7 177.6L1046.1 175.7L1046.1 179.5Z"/><path d="M1050.5 178.0L1046.9 176.1L1046.9 179.9Z"/><path d="M1050.9 178.2L1047.3 176.3L1047.3 180.1Z"/><path d="M1051.1 178.3L1047.5 176.4L1047.5 180.2Z"/></g></g>
<g opacity="0.75"><polyline fill="none" stroke="#ff0000" stroke-width="1.2" stroke-linejoin="round" points="984.2,206.3 985.3,199.2 987.0,193.3 989.2,188.3 992.0,183.7 995.8,180.0 1000.0,178.0 1004.2,177.5 1008.3,178.8 1011.7,180.0 1014.2,179.2"/><g fill="#ff0000"><circle cx="984.2" cy="206.3" r="1.8"/><circle cx="984.8" cy="202.3" r="1.8"/><circle cx="985.5" cy="198.5" r="1.8"/><circle cx="986.5" cy="195.0" r="1.8"/><circle cx="987.7" cy="191.7" r="1.8"/><circle cx="989.0" cy="188.7" r="1.8"/><circle cx="990.6" cy="186.1" r="1.8"/><circle cx="992.1" cy="183.6" r="1.8"/><circle cx="994.1" cy="181.7" r="1.8"/><circle cx="995.9" cy="179.9" r="1.8"/><circle cx="998.0" cy="178.9" r="1.8"/><circle cx="1000.0" cy="178.0" r="1.8"/><circle cx="1002.1" cy="177.7" r="1.8"/><circle cx="1003.9" cy="177.5" r="1.8"/><circle cx="1005.6" cy="177.9" r="1.8"/><circle cx="1007.0" cy="178.4" r="1.8"/><circle cx="1008.3" cy="178.8" r="1.8"/><circle cx="1009.4" cy="179.2" r="1.8"/><circle cx="1010.5" cy="179.6" r="1.8"/><circle cx="1011.4" cy="179.9" r="1.8"/><circle cx="1012.1" cy="179.9" r="1.8"/><circle cx="1012.7" cy="179.7" r="1.8"/><circle cx="1013.2" cy="179.5" r="1.8"/><circle cx="1013.6" cy="179.4" r="1.8"/><circle cx="1013.8" cy="179.3" r="1.8"/><circle cx="1014.1" cy="179.2" r="1.8"/><circle cx="1014.2" cy="179.2" r="1.8"/><circle cx="1014.2" cy="179.2" r="1.8"/></g></g>
<g opacity="0.75"><polyline fill="none" stroke="#ff0000" stroke-width="1.2" stroke-linejoin="round" points="984.2,206.3 985.3,199.2 987.0,193.3 989.2,188.3 992.0,183.7 995.8,180.0 1000.0,178.0 1004.5,177.3 1008.8,178.5 1012.2,179.5 1014.7,179.8"/><g fill="#ff0000"><path d="M981.9 206.3L985.5 204.4L985.5 208.2Z"/><path d="M982.6 202.3L986.2 200.4L986.2 204.2Z"/><path d="M983.3 198.4L986.9 196.5L986.9 200.4Z"/><path d="M984.3 194.9L987.9 193.0L987.9 196.8Z"/><path d="M985.5 191.6L989.1 189.7L989.1 193.6Z"/><path d="M986.8 188.6L990.4 186.7L990.4 190.5Z"/><path d="M988.4 185.9L992.0 184.0L992.0 187.9Z"/><path d="M990.0 183.5L993.6 181.5L993.6 185.4Z"/><path d="M991.9 181.6L995.5 179.7L995.5 183.5Z"/><path d="M993.9 179.9L997.5 178.0L997.5 181.8Z"/><path d="M996.0 178.9L999.6 176.9L999.6 180.8Z"/><path d="M998.0 178.0L1001.6 176.1L1001.6 179.9Z"/><path d="M1000.1 177.7L1003.7 175.7L1003.7 179.6Z"/><path d="M1001.9 177.4L1005.5 175.5L1005.5 179.3Z"/><path d="M1003.6 177.7L1007.2 175.8L1007.2 179.6Z"/><path d="M1005.0 178.1L1008.6 176.2L1008.6 180.0Z"/><path d="M1006.3 178.4L1009.9 176.5L1009.9 180.3Z"/><path d="M1007.5 178.8L1011.1 176.9L1011.1 180.7Z"/><path d="M1008.6 179.1L1012.2 177.2L1012.2 181.0Z"/><path d="M1009.5 179.4L1013.1 177.5L1013.1 181.3Z"/><path d="M1010.2 179.5L1013.8 177.6L1013.8 181.5Z"/><path d="M1010.8 179.6L1014.4 177.7L1014.4 181.5Z"/><path d="M1011.4 179.7L1015.0 177.8L1015.0 181.6Z"/><path d="M1011.8 179.8L1015.4 177.8L1015.4 181.7Z"/><path d="M1012.0 179.8L1015.6 177.9L1015.6 181.7Z"/><path d="M1012.3 179.8L1015.9 177.9L1015.9 181.7Z"/><path d="M1012.4 179.8L1016.0 177.9L1016.0 181.7Z"/><path d="M1012.4 179.8L1016.0 177.9L1016.0 181.7Z"/></g></g>
<g opacity="0.75"><polyline fill="none" stroke="#ff0000" stroke-width="1.2" stroke-linejoin="round" points="984.2,206.3 985.3,199.2 987.0,193.3 989.2,188.3 992.0,183.7 995.8,180.0 1000.0,178.0 1004.2,177.5 1008.3,178.8 1011.7,180.0 1014.2,179.2"/><g fill="#ff0000"><path d="M986.4 206.3L982.8 204.4L982.8 208.2Z"/><path d="M987.1 202.3L983.5 200.4L983.5 204.3Z"/><path d="M987.8 198.5L984.2 196.6L984.2 200.4Z"/><path d="M988.8 195.0L985.2 193.0L985.2 196.9Z"/><path d="M989.9 191.7L986.3 189.8L986.3 193.6Z"/><path d="M991.3 188.7L987.7 186.8L987.7 190.6Z"/><path d="M992.8 186.1L989.2 184.1L989.2 188.0Z"/><path d="M994.4 183.6L990.8 181.6L990.8 185.5Z"/><path d="M996.3 181.7L992.7 179.8L992.7 183.6Z"/><path d="M998.2 179.9L994.6 178.0L994.6 181.9Z"/><path d="M1000.3 178.9L996.7 177.0L996.7 180.9Z"/><path d="M1002.3 178.0L998.7 176.1L998.7 179.9Z"/><path d="M1004.3 177.7L1000.7 175.8L1000.7 179.7Z"/><path d="M1006.2 177.5L1002.6 175.6L1002.6 179.4Z"/><path d="M1007.8 177.9L1004.2 176.0L1004.2 179.9Z"/><path d="M1009.2 178.4L1005.6 176.5L1005.6 180.3Z"/><path d="M1010.5 178.8L1006.9 176.9L1006.9 180.7Z"/><path d="M1011.7 179.2L1008.1 177.3L1008.1 181.1Z"/><path d="M1012.7 179.6L1009.1 177.7L1009.1 181.5Z"/><path d="M1013.6 179.9L1010.0 178.0L1010.0 181.8Z"/><path d="M1014.3 179.9L1010.7 178.0L1010.7 181.8Z"/><path d="M1014.9 179.7L1011.3 177.8L1011.3 181.6Z"/><path d="M1015.5 179.5L1011.9 177.6L1011.9 181.4Z"/><path d="M1015.8 179.4L1012.2 177.4L1012.2 181.3Z"/><path d="M1016.1 179.3L1012.5 177.4L1012.5 181.2Z"/><path d="M1016.3 179.2L1012.7 177.3L1012.7 181.1Z"/><path d="M1016.4 179.2L1012.8 177.3L1012.8 181.1Z"/><path d="M1016.4 179.2L1012.8 177.3L1012.8 181.1Z"/></g></g>
<g fill="#ff0000" opacity="0.8"><circle cx="1011.3" cy="179.3" r="2.0"/><circle cx="1012.6" cy="180.4" r="2.0"/><circle cx="1013.6" cy="178.9" r="2.0"/><circle cx="1012.4" cy="178.6" r="2.0"/><circle cx="1010.2" cy="179.9" r="2.0"/></g>
<g fill="#00b4b4" opacity="0.75"><circle cx="1048.0" cy="177.3" r="1.9"/><circle cx="1049.4" cy="178.2" r="1.9"/><circle cx="1050.6" cy="177.2" r="1.9"/><circle cx="1049.2" cy="176.6" r="1.9"/></g>
<rect x="1090.5" y="183" width="72.5" height="74" rx="2" fill="#fff" fill-opacity="0.85" stroke="#e2e2e2" stroke-width="1"/>
<rect x="1163.5" y="183.5" width="119.5" height="73.5" rx="2" fill="#fff" fill-opacity="0.8" stroke="#ececec" stroke-width="1"/>
<g opacity="0.65"><line x1="1093.3" y1="192.8" x2="1120" y2="192.8" stroke="#0000ff" stroke-width="1.6"/><circle cx="1106.7" cy="192.8" r="2.3" fill="#0000ff"/></g>
<text x="1129.7" y="197.2" font-size="12.2" fill="#2a2a2a">5°C</text>
<g opacity="0.65"><line x1="1093.3" y1="210.3" x2="1120" y2="210.3" stroke="#008000" stroke-width="1.6"/><circle cx="1106.7" cy="210.3" r="2.3" fill="#008000"/></g>
<text x="1129.7" y="214.7" font-size="12.2" fill="#2a2a2a">15°C</text>
<g opacity="0.65"><line x1="1093.3" y1="227.8" x2="1120" y2="227.8" stroke="#00b4b4" stroke-width="1.6"/><circle cx="1106.7" cy="227.8" r="2.3" fill="#00b4b4"/></g>
<text x="1129.7" y="232.2" font-size="12.2" fill="#2a2a2a">25°C</text>
<g opacity="0.65"><line x1="1093.3" y1="245.3" x2="1120" y2="245.3" stroke="#ff0000" stroke-width="1.6"/><circle cx="1106.7" cy="245.3" r="2.3" fill="#ff0000"/></g>
<text x="1129.7" y="249.7" font-size="12.2" fill="#2a2a2a">35°C</text>
<circle cx="1190" cy="204.2" r="1.8" fill="#c4c4c4"/>
<text x="1212.5" y="208.5" font-size="12.3" fill="#333">idle</text>
<g fill="#c4c4c4"><path d="M1187.7 221.8L1191.4 219.8L1191.4 223.8Z"/></g>
<text x="1212.5" y="226.1" font-size="12.3" fill="#333">discharge</text>
<g fill="#c4c4c4"><path d="M1192.3 239.5L1188.6 237.5L1188.6 241.5Z"/></g>
<text x="1212.5" y="243.8" font-size="12.3" fill="#333">charge</text>
<rect x="969.1" y="35.5" width="314.4" height="221.6" fill="none" stroke="#b4b4b4" stroke-width="1.2"/>
<g stroke="#8c8c8c" stroke-width="1">
<line x1="994.4" y1="257.5" x2="994.4" y2="260.1"/>
<line x1="1035.7" y1="257.5" x2="1035.7" y2="260.1"/>
<line x1="1077.0" y1="257.5" x2="1077.0" y2="260.1"/>
<line x1="1118.3" y1="257.5" x2="1118.3" y2="260.1"/>
<line x1="1159.6" y1="257.5" x2="1159.6" y2="260.1"/>
<line x1="1200.9" y1="257.5" x2="1200.9" y2="260.1"/>
<line x1="1242.2" y1="257.5" x2="1242.2" y2="260.1"/>
<line x1="1283.5" y1="257.5" x2="1283.5" y2="260.1"/>
<line x1="966.9" y1="60.0" x2="969.5" y2="60.0"/>
<line x1="966.9" y1="101.2" x2="969.5" y2="101.2"/>
<line x1="966.9" y1="142.3" x2="969.5" y2="142.3"/>
<line x1="966.9" y1="183.6" x2="969.5" y2="183.6"/>
<line x1="966.9" y1="224.2" x2="969.5" y2="224.2"/>
</g>
<g font-size="12.05" fill="#2a2a2a">
<text x="994.4" y="269.2" text-anchor="middle">0.00</text>
<text x="1035.7" y="269.2" text-anchor="middle">0.05</text>
<text x="1077.0" y="269.2" text-anchor="middle">0.10</text>
<text x="1118.3" y="269.2" text-anchor="middle">0.15</text>
<text x="1159.6" y="269.2" text-anchor="middle">0.20</text>
<text x="1200.9" y="269.2" text-anchor="middle">0.25</text>
<text x="1242.2" y="269.2" text-anchor="middle">0.30</text>
<text x="1283.5" y="269.2" text-anchor="middle">0.35</text>
<text x="966" y="64.3" text-anchor="end">0.15</text>
<text x="966" y="105.5" text-anchor="end">0.10</text>
<text x="966" y="146.6" text-anchor="end">0.05</text>
<text x="966" y="187.9" text-anchor="end">0.00</text>
<text x="966" y="228.5" text-anchor="end">−0.05</text>
<text x="1126.5" y="281.5" text-anchor="middle" font-size="12.4">Zreal (mΩ)</text>
<text transform="translate(924.5,145) rotate(-90)" text-anchor="middle" font-size="12.4">- Zimag (mΩ)</text>
</g>
</g>
<g id="chart4">
<rect x="380.5" y="452.5" width="533.0" height="142.0" fill="#fff"/>
<g stroke="#d6d6d6" stroke-width="1">
<line x1="404.5" y1="452.5" x2="404.5" y2="594.5"/>
<line x1="477.5" y1="452.5" x2="477.5" y2="594.5"/>
<line x1="549.5" y1="452.5" x2="549.5" y2="594.5"/>
<line x1="622.5" y1="452.5" x2="622.5" y2="594.5"/>
<line x1="695.5" y1="452.5" x2="695.5" y2="594.5"/>
<line x1="767.5" y1="452.5" x2="767.5" y2="594.5"/>
<line x1="840.5" y1="452.5" x2="840.5" y2="594.5"/>
<line x1="380.5" y1="486.5" x2="913.5" y2="486.5"/>
<line x1="380.5" y1="553.5" x2="913.5" y2="553.5"/>
</g>
<polyline points="404.2,587.5 407.5,585.0 411.7,583.0 417.5,581.7 424.7,580.8 429.2,575.0 433.7,570.0 438.3,572.2 443.3,574.5 450.0,577.0 456.7,578.7 463.3,579.7 471.7,580.3 488.3,581.0 505.0,581.3 525.0,581.7 536.7,581.2 568.3,581.3 575.0,573.3 581.7,565.8 586.7,565.5 591.7,569.7 596.7,573.3 603.3,576.3 611.7,578.7 621.7,580.0 635.0,580.5 651.7,581.0 676.7,581.2 698.3,581.3 703.3,582.5 709.2,583.8 715.0,582.0 723.0,580.8 728.3,574.2 735.0,565.8 741.7,558.3 745.8,556.7 750.0,563.3 755.0,569.2 761.7,574.2 768.3,576.7 776.7,578.7 786.7,580.0 798.3,580.7 815.0,581.2 840.0,581.3 873.3,581.2 890.0,581.0" fill="none" stroke="#800080" stroke-width="2.6" stroke-linejoin="round"/>
<polyline points="404.2,587.5 406.7,580.8 410.8,579.2 415.8,576.7 420.0,553.3 424.7,541.7 429.2,523.8 433.3,525.0 438.0,525.8 443.0,532.5 447.5,535.8 452.5,542.5 456.7,546.7 461.7,550.0 465.8,552.0 470.0,552.8 474.2,552.8 478.3,554.2 483.3,556.2 488.3,555.3 492.5,555.8 496.7,557.8 501.7,558.8 506.7,558.0 510.8,557.0 514.7,559.5 519.2,557.5 523.3,558.3 528.3,559.5 532.5,558.7 537.5,560.5 541.7,558.3 546.7,559.5 554.2,560.5 559.2,557.8 563.7,557.0 568.3,538.7 573.3,534.2 578.3,530.0 582.5,526.2 586.7,525.0 590.8,526.7 595.0,525.8 600.0,528.0 604.2,525.5 608.7,535.8 613.0,537.0 617.5,542.0 621.7,542.8 627.5,546.3 631.7,546.7 636.7,548.0 640.8,549.2 645.0,548.8 650.0,550.0 654.2,548.8 660.0,550.3 665.0,550.8 670.0,550.8 676.7,552.5 680.8,552.0 685.3,547.8 690.0,552.0 694.2,550.0 699.2,552.8 704.2,552.0 709.2,551.2 713.3,552.5 718.0,553.3 722.5,545.3 726.7,540.0 731.7,534.7 736.7,529.2 740.8,525.0 750.0,525.0 750.8,525.0 755.0,530.0 761.7,538.3 768.3,546.7 773.3,553.3 776.7,556.7 781.7,558.3 785.8,560.8 793.3,563.7 803.3,566.2 810.0,566.7 818.3,568.7 823.3,568.7 830.0,567.8 835.8,569.2 840.0,569.2 848.3,568.3 853.3,568.3 858.3,569.7 863.3,569.2 868.3,568.3 871.7,567.5 875.8,568.7 880.8,568.0 885.0,569.2 890.0,569.7" fill="none" stroke="#ee0a0a" stroke-width="2.6" stroke-linejoin="round"/>
<rect x="600" y="461.8" width="303.3" height="61.6" rx="3.5" fill="#fff" fill-opacity="0.8" stroke="#dadada" stroke-width="1"/>
<line x1="606.3" y1="476.7" x2="647.2" y2="476.7" stroke="#800080" stroke-width="2.6"/>
<line x1="606.3" y1="505" x2="647.2" y2="505" stroke="#ee0a0a" stroke-width="2.6"/>
<g font-size="19.4" fill="#000"><text x="661.7" y="483.7">Thermistor Temperature</text><text x="661.7" y="512">NZIF Temperature</text></g>
<rect x="380.5" y="452.5" width="533.0" height="142.0" fill="none" stroke="#8a8a8a" stroke-width="1"/>
<g stroke="#555" stroke-width="1">
<line x1="404.6" y1="594.5" x2="404.6" y2="597.3"/>
<line x1="477.3" y1="594.5" x2="477.3" y2="597.3"/>
<line x1="549.9" y1="594.5" x2="549.9" y2="597.3"/>
<line x1="622.6" y1="594.5" x2="622.6" y2="597.3"/>
<line x1="695.2" y1="594.5" x2="695.2" y2="597.3"/>
<line x1="767.9" y1="594.5" x2="767.9" y2="597.3"/>
<line x1="840.6" y1="594.5" x2="840.6" y2="597.3"/>
<line x1="377.7" y1="486.3" x2="380.5" y2="486.3"/>
<line x1="377.7" y1="553.3" x2="380.5" y2="553.3"/>
</g>
<g font-size="17.6" fill="#000">
<text x="404.6" y="612.8" text-anchor="middle">0</text>
<text x="477.3" y="612.8" text-anchor="middle">25</text>
<text x="549.9" y="612.8" text-anchor="middle">50</text>
<text x="622.6" y="612.8" text-anchor="middle">75</text>
<text x="695.2" y="612.8" text-anchor="middle">100</text>
<text x="767.9" y="612.8" text-anchor="middle">125</text>
<text x="840.6" y="612.8" text-anchor="middle">150</text>
<text x="375" y="492.7" text-anchor="end">40</text><text x="375" y="559.7" text-anchor="end">30</text>
</g>
<text transform="translate(343.4,523.2) rotate(-90)" text-anchor="middle" font-size="19.5" fill="#000">Temperature (°C)</text>
<rect x="380.5" y="622.5" width="533.0" height="142.0" fill="#fff"/>
<g stroke="#d6d6d6" stroke-width="1">
<line x1="404.5" y1="622.5" x2="404.5" y2="764.5"/>
<line x1="477.5" y1="622.5" x2="477.5" y2="764.5"/>
<line x1="549.5" y1="622.5" x2="549.5" y2="764.5"/>
<line x1="622.5" y1="622.5" x2="622.5" y2="764.5"/>
<line x1="695.5" y1="622.5" x2="695.5" y2="764.5"/>
<line x1="767.5" y1="622.5" x2="767.5" y2="764.5"/>
<line x1="840.5" y1="622.5" x2="840.5" y2="764.5"/>
<line x1="380.5" y1="639.5" x2="913.5" y2="639.5"/>
<line x1="380.5" y1="696.5" x2="913.5" y2="696.5"/>
<line x1="380.5" y1="753.5" x2="913.5" y2="753.5"/>
</g>
<polyline points="403.5,684.5 421.5,684.5 423.0,687.0 423.7,700.0 424.5,706.7 426.7,712.5 429.5,715.5 432.5,717.0 433.1,700.0 434.0,696.5 436.7,694.2 440.0,693.2 445.0,692.6 461.7,692.3 520.0,692.3 568.0,692.5 568.4,705.0 569.2,713.3 571.0,719.0 573.3,723.3 577.5,727.5 582.6,731.0 583.2,718.0 584.0,712.5 585.5,710.0 588.0,708.5 592.0,707.7 600.0,707.2 660.0,707.0 723.2,707.2 723.6,720.0 724.5,727.0 726.0,732.0 728.3,736.7 731.5,741.7 735.0,746.7 739.0,751.0 742.9,755.0 743.4,745.0 744.0,738.5 745.8,735.0 748.0,733.8 752.0,733.2 773.3,732.8 830.0,732.0 890.0,731.3" fill="none" stroke="#5f5fee" stroke-width="2.45" stroke-linejoin="round"/>
<polyline points="404.6,757.5 423.5,757.5 423.5,688.3 433.2,688.3 433.2,757.5 568.7,757.5 568.7,688.3 583.1,688.3 583.1,757.5 723.4,757.5 723.4,688.3 743.7,688.3 743.7,757.5 889.5,757.5" fill="none" stroke="#0a800a" stroke-width="2.4" stroke-dasharray="6.3 3.1" stroke-linejoin="miter"/>
<rect x="390" y="631.7" width="232.5" height="33.8" rx="3.5" fill="#fff" fill-opacity="0.8" stroke="#dedede" stroke-width="1"/>
<line x1="395.8" y1="647.5" x2="436.3" y2="647.5" stroke="#5f5fee" stroke-width="2.45"/>
<text x="451.7" y="654.4" font-size="19.4" fill="#000">Terminal Voltage</text>
<rect x="762.2" y="631.7" width="141.1" height="33.8" rx="3.5" fill="#fff" fill-opacity="0.8" stroke="#dedede" stroke-width="1"/>
<line x1="769.7" y1="647.5" x2="807.7" y2="647.5" stroke="#0a800a" stroke-width="2.4" stroke-dasharray="6.3 3.1"/>
<text x="824.5" y="654.4" font-size="19.4" fill="#000">Current</text>
<rect x="380.5" y="622.5" width="533.0" height="142.0" fill="none" stroke="#8a8a8a" stroke-width="1"/>
<g stroke="#555" stroke-width="1">
<line x1="404.6" y1="764.5" x2="404.6" y2="767.3"/>
<line x1="477.3" y1="764.5" x2="477.3" y2="767.3"/>
<line x1="549.9" y1="764.5" x2="549.9" y2="767.3"/>
<line x1="622.6" y1="764.5" x2="622.6" y2="767.3"/>
<line x1="695.2" y1="764.5" x2="695.2" y2="767.3"/>
<line x1="767.9" y1="764.5" x2="767.9" y2="767.3"/>
<line x1="840.6" y1="764.5" x2="840.6" y2="767.3"/>
<line x1="377.7" y1="639.5" x2="380.5" y2="639.5"/>
<line x1="377.7" y1="696.2" x2="380.5" y2="696.2"/>
<line x1="377.7" y1="753.2" x2="380.5" y2="753.2"/>
<line x1="913.5" y1="690.0" x2="916.3" y2="690.0"/>
<line x1="913.5" y1="757.7" x2="916.3" y2="757.7"/>
</g>
<g font-size="17.6" fill="#000">
<text x="404.6" y="783.2" text-anchor="middle">0</text>
<text x="477.3" y="783.2" text-anchor="middle">25</text>
<text x="549.9" y="783.2" text-anchor="middle">50</text>
<text x="622.6" y="783.2" text-anchor="middle">75</text>
<text x="695.2" y="783.2" text-anchor="middle">100</text>
<text x="767.9" y="783.2" text-anchor="middle">125</text>
<text x="840.6" y="783.2" text-anchor="middle">150</text>
<text x="375" y="645.9" text-anchor="end">5</text>
<text x="375" y="702.6" text-anchor="end">4</text>
<text x="375" y="759.6" text-anchor="end">3</text>
<text x="918.5" y="696.4">3D</text><text x="918.5" y="764.2">0</text>
</g>
<g font-size="19.4" fill="#000">
<text x="647.5" y="805" text-anchor="middle" font-size="18.8">Time (Minutes)</text>
<text transform="translate(356.1,694.6) rotate(-90)" text-anchor="middle">Voltage (V)</text>
<text transform="translate(962.8,696.6) rotate(-90)" text-anchor="middle">D-Rate</text>
</g>
<rect x="1280.5" y="425.5" width="12" height="11.5" fill="#fff" stroke="#e0e0e0" stroke-width="1"/>
<path d="M1283 430h7l-3.5 3.6z" fill="#aaa"/>
</g>
</svg>
<div class="cap c" style="left:0;top:287.7px;width:428.5px;line-height:25.5px;"><b>Figure 1:</b> Normalized EIS underload at 5°C taken<br>under idle, discharge (D/5), and charge (C/5)<br>conditions. Dotted line marks the point at which EIS<br>spectra for the charge condition diverges.</div>
<div class="cap c" style="left:438px;top:271px;width:440px;line-height:21.1px;"><b>Figure 2:</b> Frequency limit as a function of the current<br>load, C-rate for charging and D-rate for discharging.<br>For frequency points below this limit frequency, the<br>EIS spectrum deviates by a local rmse&nbsp; &gt;10% from the<br>idle EIS.</div>
<div class="cap" style="left:897.5px;top:292.8px;line-height:21.1px;"><b>Figure 3:</b> Normalized EIS underload at various<br>temperatures, at constant charge(C/5) and<br>discharge (D/5) current loads.</div>
<div class="cap" style="left:203px;top:838.7px;line-height:21px;"><b>Figure 4:</b> Thermistor and NZIF cell-temperature measurements taken under the plotted current load conditions.</div>
</body></html>
